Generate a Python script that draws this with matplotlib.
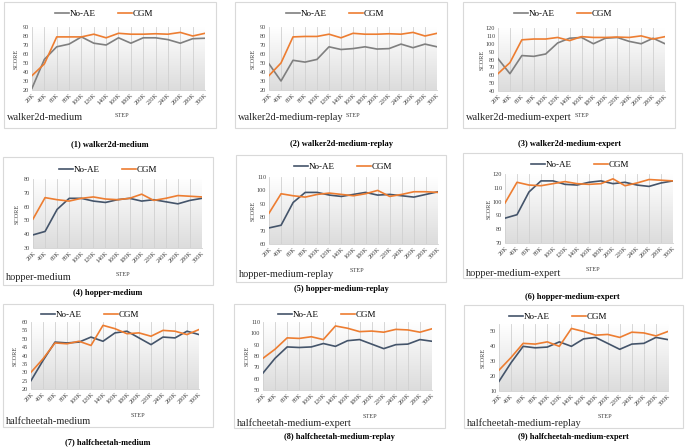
import matplotlib
matplotlib.use("Agg")
import matplotlib.pyplot as plt
import numpy as np
from matplotlib.colors import LinearSegmentedColormap
from matplotlib.patches import Rectangle

STEPS = ["20K", "40K", "60K", "80K", "100K", "120K", "140K", "160K", "180K",
         "200K", "220K", "240K", "260K", "280K", "300K"]

# (1) walker2d-medium
wm_noae = [22, 54, 68, 71, 79, 72, 70, 78, 72, 78, 78, 76, 72, 77, 77.5]
wm_cgm = [36, 49, 79, 79, 79, 82, 78, 83, 82, 82, 82.5, 82, 84, 80, 83]
# (2) walker2d-medium-replay
wmr_noae = [49, 30, 53, 51, 54, 68, 65, 66, 68, 65.5, 66, 71, 67, 71, 68]
wmr_cgm = [36, 50, 79, 79.5, 79.5, 82, 78, 83, 82, 82, 82.5, 82, 84, 80, 83]
# (3) walker2d-medium-expert
wme_noae = [81, 62, 85, 84, 87, 101, 107, 108, 100, 107, 108, 103, 100, 107, 100]
wme_cgm = [62, 76, 105, 106, 106, 108, 104, 109, 108, 108, 108.5, 108, 110, 106, 109]
# (4) hopper-medium
hm_noae = [39.5, 42, 58, 66, 66, 64, 63, 65, 66, 64, 65, 63.5, 62, 64.5, 66]
hm_cgm = [51, 66.5, 65, 64, 66, 67, 65.5, 65, 66, 69, 64.5, 66, 68, 67.5, 67]
# (5) hopper-medium-replay
hmr_noae = [72, 74, 91, 98.5, 98.5, 96.5, 95.5, 97, 98.5, 96.5, 97, 96, 95, 97, 99]
hmr_cgm = [83, 97.5, 96, 95, 97, 98, 97, 96, 97.5, 100, 95.5, 97, 99, 99, 98.5]
# (6) hopper-medium-expert
hme_noae = [88, 90.5, 107, 115, 115, 112.5, 112, 114, 115, 113, 114, 112, 111, 113.5, 115]
hme_cgm = [99, 114, 112, 111.5, 113, 114.5, 113, 112.5, 113, 116.5, 111.5, 113.5, 116, 115.5, 115]
# (7) halfcheetah-medium
hcm_noae = [25, 37, 48, 47.5, 48, 51, 48.5, 53.5, 54.5, 50.5, 46.5, 51, 50.5, 54.5, 52.5]
hcm_cgm = [30, 38, 47.5, 47, 48.5, 46, 58, 56, 53, 53.5, 51.5, 55, 54.5, 52.5, 55.5]
# (8) halfcheetah-medium-replay
hcmr_noae = [65, 78, 88, 87.5, 88, 91, 88.5, 93.5, 94.5, 90.5, 86.5, 90, 90.5, 94.5, 93]
hcmr_cgm = [78, 86, 96, 95.5, 97, 94.5, 106.5, 104.5, 101.5, 102, 101, 103.5, 103, 101, 104]
# (9) halfcheetah-medium-expert
hcme_noae = [16.5, 29, 40, 39, 39.5, 43, 40, 45, 46, 42, 38, 41.5, 42, 46, 44.5]
hcme_cgm = [24, 32.5, 42, 41.5, 43, 40, 52, 50, 47.5, 48, 46, 49.5, 49, 47, 50]

INNER = ["walker2d-medium", "walker2d-medium-replay", "walker2d-medium-expert",
         "hopper-medium", "hopper-medium-replay", "hopper-medium-expert",
         "halfcheetah-medium", "halfcheetah-medium-expert", "halfcheetah-medium-replay"]
CAPTIONS = ["(1) walker2d-medium", "(2) walker2d-medium-replay", "(3) walker2d-medium-expert",
            "(4) hopper-medium", "(5) hopper-medium-replay", "(6) hopper-medium-expert",
            "(7) halfcheetah-medium", "(8) halfcheetah-medium-replay", "(9) halfcheetah-medium-expert"]
NOAE = [wm_noae, wmr_noae, wme_noae, hm_noae, hmr_noae, hme_noae, hcm_noae, hcmr_noae, hcme_noae]
CGM = [wm_cgm, wmr_cgm, wme_cgm, hm_cgm, hmr_cgm, hme_cgm, hcm_cgm, hcmr_cgm, hcme_cgm]
# y range and tick step
YRANGE = [(20, 90, 10), (20, 90, 10), (40, 120, 10), (30, 80, 10), (60, 110, 10),
          (70, 120, 10), (20, 60, 5), (50, 110, 10), (10, 55, 10)]

# layout in pixels: box (l, t, r, b), plot (x20K, x300K, ytop, ybottom), caption y,
# legend centre (x, y), STEP centre (x, y), inner label y
LAYOUT = [
    ((4, 2, 216, 128), (32, 205, 27, 90), 144, (104, 14), (122, 115), 117),
    ((235, 2, 447, 128), (269, 437, 27, 90), 144, (335, 14), (353, 115), 117),
    ((463, 2, 675, 128), (498, 665, 28, 91), 144, (563, 14), (582, 115), 117),
    ((3, 157, 213, 285), (33, 202, 179, 248), 293, (108, 170), (123, 274), 277),
    ((236, 155, 446, 282), (269, 438, 177, 244), 289, (343, 167), (357, 271), 274),
    ((463, 153, 682, 278), (505, 673, 174, 243), 297, (580, 165), (593, 269), 273),
    ((3, 304, 213, 427), (31, 199, 322, 389), 442, (90, 315), (138, 415), 421),
    ((234, 304, 445, 428), (263, 432, 322, 390), 437, (327, 315), (370, 416), 423),
    ((464, 305, 683, 428), (499, 668, 324, 391), 437, (558, 317), (605, 416), 423),
]

W, H = 685, 448
ORANGE = "#ed7d31"
SERIF = ["Liberation Serif", "DejaVu Serif"]
plt.rcParams["font.family"] = SERIF

fig = plt.figure(figsize=(W / 100, H / 100), dpi=100)
grad_cmap = LinearSegmentedColormap.from_list("g", ["#ffffff", "#dcdcdc"])
x = np.arange(len(STEPS))

for i in range(9):
    (bl, bt, br, bb), (px0, px1, pyt, pyb), cap_y, (lx, ly), (sx, sy), iy = LAYOUT[i]
    # panel box
    fig.patches.append(Rectangle((bl / W, 1 - bb / H), (br - bl) / W, (bb - bt) / H,
                                 transform=fig.transFigure, fill=False,
                                 edgecolor="#d9d9d9", linewidth=0.8))
    ax = fig.add_axes([px0 / W, 1 - pyb / H, (px1 - px0) / W, (pyb - pyt) / H])
    ymin, ymax, ystep = YRANGE[i]
    ax.imshow(np.linspace(0, 1, 100).reshape(-1, 1), extent=[0, 14, ymin, ymax],
              aspect="auto", cmap=grad_cmap, origin="upper", zorder=0)
    noae_color = "#7f7f7f" if i < 3 else "#44546a"
    ax.plot(x, NOAE[i], color=noae_color, lw=1.2, label="No-AE", zorder=3)
    ax.plot(x, CGM[i], color=ORANGE, lw=1.2, label="CGM", zorder=3)
    ax.set_xlim(0, 14)
    ax.set_ylim(ymin, ymax)
    ax.set_yticks(np.arange(ymin, ymax + 0.1, ystep))
    ax.set_xticks(x)
    ax.set_xticklabels(STEPS, rotation=45, ha="right", rotation_mode="anchor")
    ax.tick_params(axis="both", length=0, labelsize=4.5, colors="#404040", pad=2)
    ax.grid(axis="x", color="#d0d0d0", lw=0.6, zorder=1)
    for s in ["top", "right", "left"]:
        ax.spines[s].set_visible(False)
    ax.spines["bottom"].set_color("#d0d0d0")
    ax.spines["bottom"].set_linewidth(0.6)

    cx = (bl + br) / 2
    ax.legend(loc="center", bbox_to_anchor=(lx / W, 1 - ly / H),
              bbox_transform=fig.transFigure, ncol=2, frameon=False,
              fontsize=6.5, handlelength=1.5, handletextpad=0.1, columnspacing=2.5)
    fig.text(sx / W, 1 - sy / H, "STEP", fontsize=4.5,
             ha="center", va="center", color="#404040")
    fig.text((px0 - 16) / W, 1 - (pyt + pyb) / 2 / H, "SCORE", fontsize=4.5,
             rotation=90, ha="center", va="center", color="#404040")
    fig.text((bl + 3) / W, 1 - iy / H, INNER[i], fontsize=7.5,
             ha="left", va="center", color="#262626")
    fig.text(cx / W, 1 - cap_y / H, CAPTIONS[i], fontsize=6, fontweight="bold",
             ha="center", va="center", color="#000000")

fig.savefig("out.png", dpi=100)
